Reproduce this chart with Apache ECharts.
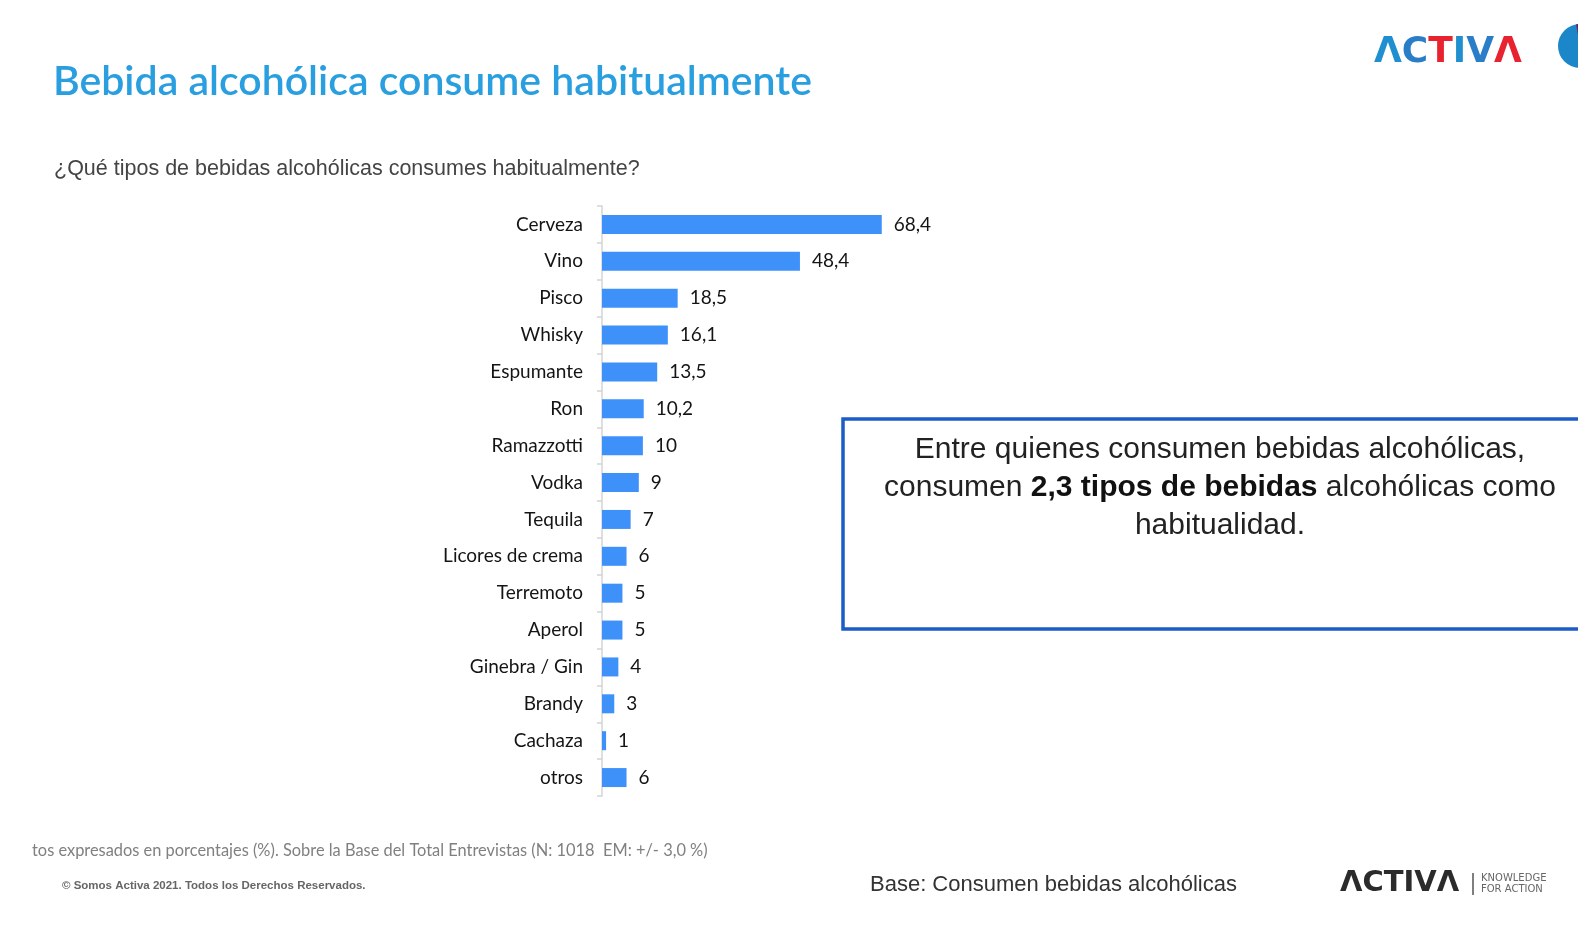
<!DOCTYPE html>
<html>
<head>
<meta charset="utf-8">
<script src="https://cdn.jsdelivr.net/npm/echarts@6/dist/echarts.min.js"></script>
<style>
  html, body { margin: 0; padding: 0; background: #fff; }
  #chart { width: 1596px; height: 946px; }
</style>
</head>
<body>
<div id="chart"></div>
<script>
// bebidas, de mayor a menor (otros al final)
const categories = ['Cerveza', 'Vino', 'Pisco', 'Whisky', 'Espumante', 'Ron', 'Ramazzotti', 'Vodka',
  'Tequila', 'Licores de crema', 'Terremoto', 'Aperol', 'Ginebra / Gin', 'Brandy', 'Cachaza', 'otros']
const values = [68.4, 48.4, 18.5, 16.1, 13.5, 10.2, 10, 9, 7, 6, 5, 5, 4, 3, 1, 6]

const titleText = 'Bebida alcohólica consume habitualmente'
const questionText = '¿Qué tipos de bebidas alcohólicas consumes habitualmente?'
const noteText = 'tos expresados en porcentajes (%). Sobre la Base del Total Entrevistas (N: 1018  EM: +/- 3,0 %)'
const copyText = '© Somos Activa 2021. Todos los Derechos Reservados.'
const baseText = 'Base: Consumen bebidas alcohólicas'

const LABEL_FONT = 'Lato'
const BAR_COLOR = '#3f91fa'

let chart = echarts.init(document.getElementById('chart'))

let option = {
  backgroundColor: '#fff',
  animation: false,
  grid: { left: 602, top: 206, width: 409, height: 590 },
  xAxis: { type: 'value', min: 0, max: 100, show: false },
  yAxis: {
    type: 'category',
    inverse: true,
    data: categories,
    axisLine: { lineStyle: { color: '#d4d4d4', width: 1.5 } },
    axisTick: { show: true, length: 5, lineStyle: { color: '#d4d4d4', width: 1.5 } },
    axisLabel: { fontFamily: LABEL_FONT, fontSize: 19, color: '#141414', margin: 19 }
  },
  series: [{
    type: 'bar',
    data: values,
    barWidth: 19,
    itemStyle: { color: BAR_COLOR },
    label: {
      show: true,
      position: 'right',
      distance: 12,
      fontFamily: LABEL_FONT,
      fontSize: 19,
      color: '#141414',
      formatter: p => String(p.value).replace('.', ',')
    }
  }],
  graphic: [
    // title + question
    { type: 'text', left: 53, top: 61,
      style: { text: titleText, fontFamily: LABEL_FONT, fontWeight: 600, fontSize: 41, fill: '#2a9fe0' } },
    { type: 'text', left: 54, top: 158,
      style: { text: questionText, fontFamily: 'Liberation Sans', fontSize: 21.5, fill: '#444' } },

    // highlighted box
    { type: 'rect', shape: { x: 843, y: 419, width: 800, height: 210 },
      style: { fill: 'none', stroke: '#1d5cc7', lineWidth: 3.5 } },
    { type: 'text', x: 1220, y: 431,
      style: {
        text: '{n|Entre quienes consumen bebidas alcohólicas,}\n{n|consumen }{b|2,3 tipos de bebidas}{n| alcohólicas como}\n{n|habitualidad.}',
        align: 'center',
        rich: {
          n: { fontFamily: 'Liberation Sans', fontSize: 30, lineHeight: 38, fill: '#222' },
          b: { fontFamily: 'Liberation Sans', fontSize: 30, lineHeight: 38, fontWeight: 'bold', fill: '#111' }
        }
      } },

    // footer
    { type: 'text', left: 32, top: 843,
      style: { text: noteText, fontFamily: LABEL_FONT, fontSize: 16.4, fill: '#808080' } },
    { type: 'text', left: 62, top: 880,
      style: { text: copyText, fontFamily: 'Liberation Sans', fontSize: 11.5, fontWeight: 'bold', fill: '#666' } },
    { type: 'text', left: 870, top: 874,
      style: { text: baseText, fontFamily: 'Liberation Sans', fontSize: 22, fill: '#333' } },

    // logos
    { type: 'text', left: 1374, top: 35,
      style: {
        text: '{a|Λ}{b|C}{c|T}{a|I}{b|V}{c|Λ}',
        rich: {
          a: { fontFamily: 'DejaVu Sans', fontWeight: 'bold', fontSize: 36, fill: '#1f8fd0' },
          b: { fontFamily: 'DejaVu Sans', fontWeight: 'bold', fontSize: 36, fill: '#2a7ec8' },
          c: { fontFamily: 'DejaVu Sans', fontWeight: 'bold', fontSize: 36, fill: '#e8232f' }
        }
      } },
    { type: 'circle', shape: { cx: 1580, cy: 46, r: 22 }, style: { fill: '#1b87c9' } },
    { type: 'sector', shape: { cx: 1580, cy: 46, r: 22, r0: 0, startAngle: -1.75, endAngle: -0.6 },
      style: { fill: '#6b2160' } },
    { type: 'text', left: 1340, top: 869,
      style: { text: 'ΛCTIVΛ', fontFamily: 'DejaVu Sans', fontWeight: 'bold', fontSize: 29, fill: '#2b2b2b' } },
    { type: 'line', shape: { x1: 1473, y1: 873, x2: 1473, y2: 895 }, style: { stroke: '#555', lineWidth: 1.5 } },
    { type: 'text', left: 1481, top: 873,
      style: { text: 'KNOWLEDGE\nFOR ACTION', fontFamily: 'DejaVu Sans', fontSize: 10, lineHeight: 11, fill: '#666' } },

    // slide edge
    { type: 'rect', z: 100, shape: { x: 1578, y: 0, width: 30, height: 946 }, style: { fill: '#fff' } }
  ]
}

chart.setOption(option)
</script>
</body>
</html>
